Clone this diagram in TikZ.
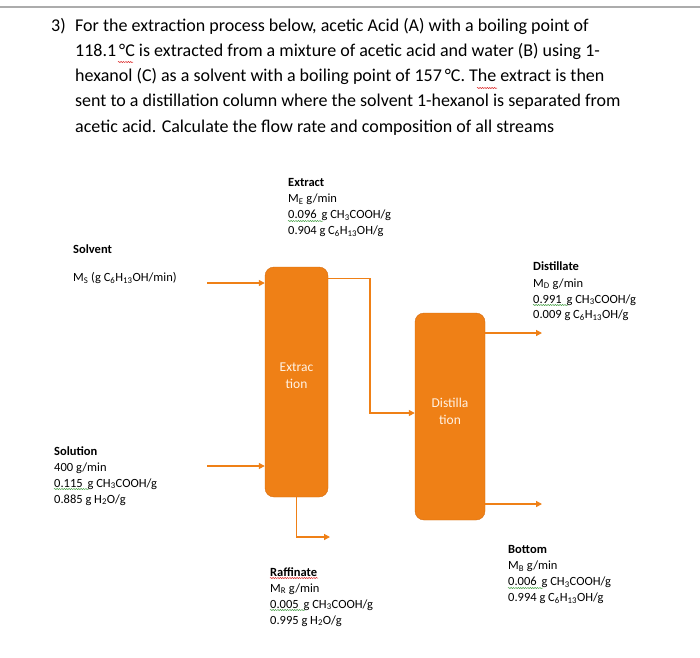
\documentclass[tikz,border=0pt]{standalone}
\usepackage{fontspec}
\setmainfont{Carlito}
\usetikzlibrary{arrows.meta, decorations.pathmorphing}
\definecolor{procorange}{RGB}{239,128,22}
\definecolor{procedge}{RGB}{214,108,14}
\definecolor{boxtext}{RGB}{255,242,228}
\definecolor{spellred}{RGB}{220,40,40}
\definecolor{spellgreen}{RGB}{70,160,70}
\newcommand{\acid}{CH\textsubscript{3}COOH}
\newcommand{\hexol}{C\textsubscript{6}H\textsubscript{13}OH}
\newcommand{\water}{H\textsubscript{2}O}
\tikzset{
  unit/.style={draw=procedge, fill=procorange, rounded corners=9pt},
  unitlabel/.style={text=boxtext, align=center, inner sep=0pt, font=\fontsize{13.5}{17}\selectfont},
  flow/.style={draw=procorange, line width=1.3pt, -{Triangle[length=6pt,width=6pt]}},
  stream/.style={anchor=north west, inner sep=0pt, align=left, font=\fontsize{12.5}{16}\selectfont},
  question/.style={anchor=north west, inner sep=0pt, align=left, font=\fontsize{18}{25.2}\selectfont},
  squiggle/.style={decorate, decoration={snake, amplitude=0.6pt, segment length=2.4pt}, line width=0.5pt}
}

\begin{document}
\begin{tikzpicture}[x=1pt, y=-1pt]
  \useasboundingbox (0,0) rectangle (700,657);
  \fill[white] (0,0) rectangle (700,657);
  \draw[gray!65, line width=1.5pt] (0,7) -- (700,7);

  % question text
  \node[question] (num) at (51,18) {3)};
  \node[question] (task) at (75,18) {For the extraction process below, acetic Acid (A) with a boiling point of\\
    118.1\,°C is extracted from a mixture of acetic acid and water (B) using 1-\\
    hexanol (C) as a solvent with a boiling point of 157\,°C. The extract is then\\
    sent to a distillation column where the solvent 1-hexanol is separated from\\
    acetic acid. Calculate the flow rate and composition of all streams};

  % units
  \node[unit, minimum width=63pt, minimum height=230pt] (ext) at (296.5,382) {};
  \node[unitlabel] (extlbl) at ([yshift=6pt]ext.center) {Extrac\\tion};
  \node[unit, minimum width=70pt, minimum height=207pt] (dist) at (450,416.5) {};
  \node[unitlabel] (distlbl) at ([yshift=5pt]dist.center) {Distilla\\tion};

  % stream labels
  \node[stream] (extract) at (288,178) {\textbf{Extract}\\M\textsubscript{E} g/min\\0.096\, g \acid/g\\0.904 g \hexol/g};
  \node[stream] (solvent) at (73,245) {\textbf{Solvent}\\[12pt]M\textsubscript{S} (g \hexol/min)};
  \node[stream] (solution) at (54,446) {\textbf{Solution}\\400 g/min\\0.115\, g \acid/g\\0.885 g \water/g};
  \node[stream] (distillate) at (533,262) {\textbf{Distillate}\\M\textsubscript{D} g/min\\0.991\, g \acid/g\\0.009 g \hexol/g};
  \node[stream] (raffinate) at (270,567) {\textbf{Raffinate}\\M\textsubscript{R} g/min\\0.005\, g \acid/g\\0.995 g \water/g};
  \node[stream] (bottom) at (508,545) {\textbf{Bottom}\\M\textsubscript{B} g/min\\0.006\, g \acid/g\\0.994 g \hexol/g};

  % free ends of the streams
  \coordinate (solvin) at (207,283);
  \coordinate (solnin) at (207,466);
  \coordinate (bend) at (370,413);
  \coordinate (raffout) at (330,537);
  \coordinate (distout) at (542,333);
  \coordinate (botout) at (542,504);

  % streams
  \draw[flow] (solvin) -- (solvin -| ext.west);
  \draw[flow] (solnin) -- (solnin -| ext.west);
  \draw[flow] ([yshift=-12pt]ext.north east) -| (bend) -- (bend -| dist.west);
  \draw[flow] (ext.south) |- (raffout);
  \draw[flow] (distout -| dist.east) -- (distout);
  \draw[flow] (botout -| dist.east) -- (botout);

  % spell-check marks
  \draw[squiggle, spellred] (118,62) -- (133,62);
  \draw[squiggle, spellred] (477,88) -- (497,88);
  \draw[squiggle, spellgreen] (288,221) -- (323,221);
  \draw[squiggle, spellgreen] (54,489) -- (89,489);
  \draw[squiggle, spellgreen] (533,305) -- (568,305);
  \draw[squiggle, spellgreen] (270,610) -- (305,610);
  \draw[squiggle, spellgreen] (508,588) -- (543,588);
  \draw[squiggle, spellred] (270,578) -- (318,578);
\end{tikzpicture}
\end{document}
